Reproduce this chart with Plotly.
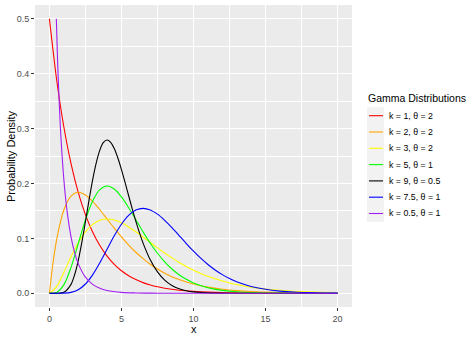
import plotly.graph_objects as go

# Gamma distribution curves
names = ["k = 1, θ = 2", "k = 2, θ = 2", "k = 3, θ = 2", "k = 5, θ = 1",
         "k = 9, θ = 0.5", "k = 7.5, θ = 1", "k = 0.5, θ = 1"]
colors = ["#FF0000", "#FFA500", "#FFFF00", "#00FF00", "#000000", "#0000FF", "#A020F0"]
legend_title = "Gamma Distributions"
x_title = "x"
y_title = "Probability Density"

red_x = [0, 0.5, 1, 1.5, 2, 2.5, 3, 3.5, 4, 4.5, 5, 5.5, 6, 6.5, 7, 7.5, 8,
         9, 10, 11, 12, 13, 14, 15, 16, 17, 18, 19, 20]
red_y = [0.5, 0.3894, 0.3033, 0.2362, 0.1839, 0.1433, 0.1116, 0.0869, 0.0677, 0.0527,
         0.0410, 0.0320, 0.0249, 0.0194, 0.0151, 0.0118, 0.0092,
         0.0056, 0.0034, 0.0020, 0.0012, 0.0008, 0.0005, 0.0003, 0.0002, 0.0001, 0.0001, 0.0, 0.0]

orange_x = [0, 0.25, 0.5, 1, 1.5, 2, 2.5, 3, 3.5, 4, 4.5, 5, 5.5, 6, 6.5, 7, 7.5, 8, 8.5,
            9, 9.5, 10, 11, 12, 13, 14, 15, 16, 17, 18, 19, 20]
orange_y = [0, 0.0552, 0.0974, 0.1516, 0.1771, 0.1839, 0.1791, 0.1673, 0.1521, 0.1353,
            0.1186, 0.1026, 0.0879, 0.0747, 0.0631, 0.0528, 0.0441, 0.0366, 0.0303,
            0.0250, 0.0205, 0.0168, 0.0112, 0.0074, 0.0049, 0.0032, 0.0021, 0.0013,
            0.0009, 0.0006, 0.0004, 0.0002]

yellow_x = [0, 0.5, 1, 1.5, 2, 2.5, 3, 3.5, 4, 4.5, 5, 5.5, 6, 6.5, 7, 7.5, 8, 8.5, 9, 9.5,
            10, 10.5, 11, 11.5, 12, 12.5, 13, 13.5, 14, 14.5, 15, 16, 17, 18, 19, 20]
yellow_y = [0, 0.0122, 0.0379, 0.0664, 0.0920, 0.1119, 0.1255, 0.1331, 0.1353, 0.1334,
            0.1283, 0.1208, 0.1120, 0.1025, 0.0925, 0.0826, 0.0733, 0.0644, 0.0562, 0.0488,
            0.0421, 0.0362, 0.0309, 0.0263, 0.0223, 0.0188, 0.0159, 0.0133, 0.0112, 0.0093,
            0.0078, 0.0054, 0.0037, 0.0025, 0.0017, 0.0011]

green_x = [0, 0.5, 1, 1.5, 2, 2.5, 3, 3.5, 4, 4.5, 5, 5.5, 6, 6.5, 7, 7.5, 8, 8.5, 9, 9.5,
           10, 11, 12, 13, 14, 15, 16, 17, 18, 19, 20]
green_y = [0, 0.0016, 0.0153, 0.0471, 0.0902, 0.1336, 0.1680, 0.1888, 0.1954, 0.1898,
           0.1755, 0.1558, 0.1339, 0.1118, 0.0912, 0.0729, 0.0572, 0.0442, 0.0337, 0.0254,
           0.0189, 0.0102, 0.0053, 0.0027, 0.0013, 0.0006, 0.0003, 0.0001, 0.0, 0.0, 0.0]

black_x = [0, 0.5, 1, 1.5, 1.75, 2, 2.25, 2.5, 2.75, 3, 3.25, 3.5, 3.75, 4, 4.25, 4.5, 4.75,
           5, 5.25, 5.5, 5.75, 6, 6.25, 6.5, 7, 7.5, 8, 8.5, 9, 9.5, 10,
           11, 12, 13, 14, 15, 16, 17, 18, 19, 20]
black_y = [0, 0, 0.0017, 0.0162, 0.0337, 0.0595, 0.0926, 0.1305, 0.1698, 0.2066, 0.2376,
           0.2608, 0.2747, 0.2791, 0.2750, 0.2636, 0.2463, 0.2253, 0.2019, 0.1776, 0.1538,
           0.1311, 0.1103, 0.0914, 0.0609, 0.0389, 0.0240, 0.0143, 0.0083, 0.0047, 0.0026,
           0.0008, 0.0002, 0, 0, 0, 0, 0, 0, 0, 0]

blue_x = [0, 0.5, 1, 1.5, 2, 2.5, 3, 3.5, 4, 4.5, 5, 5.5, 6, 6.5, 7, 7.5, 8, 8.5, 9, 9.5,
          10, 10.5, 11, 11.5, 12, 12.5, 13, 13.5, 14, 15, 16, 17, 18, 19, 20]
blue_y = [0, 0, 0.0002, 0.0017, 0.0065, 0.0169, 0.0336, 0.0555, 0.0802, 0.1047, 0.1258,
          0.1418, 0.1515, 0.1546, 0.1517, 0.1441, 0.1329, 0.1197, 0.1052, 0.0906, 0.0767,
          0.0639, 0.0524, 0.0425, 0.0340, 0.0269, 0.0210, 0.0163, 0.0125, 0.0072, 0.0040,
          0.0022, 0.0012, 0.0006, 0.0003]

purple_x = [0.48, 0.55, 0.6, 0.75, 1, 1.25, 1.5, 1.75, 2, 2.5, 3, 3.5, 4, 5, 6, 7, 8,
            10, 12, 14, 16, 18, 20]
purple_y = [0.5, 0.4389, 0.3997, 0.3077, 0.2076, 0.1446, 0.1028, 0.0741, 0.0540, 0.0293,
            0.0162, 0.0091, 0.0052, 0.0017, 0.0006, 0.0002, 0.0001, 0, 0, 0, 0, 0, 0]

xs = [red_x, orange_x, yellow_x, green_x, black_x, blue_x, purple_x]
ys = [red_y, orange_y, yellow_y, green_y, black_y, blue_y, purple_y]

x_ticks = [0, 5, 10, 15, 20]
y_ticks = [0.0, 0.1, 0.2, 0.3, 0.4, 0.5]

W, H = 474, 338
ML, MR, MT, MB = 35, 122, 5, 31
PW, PH = W - ML - MR, H - MT - MB


def px_to_paper(px, py):
    return (px - ML) / PW, (H - MB - py) / PH


fig = go.Figure()
for name, col, x, y in zip(names, colors, xs, ys):
    fig.add_trace(go.Scatter(x=x, y=y, mode="lines", name=name, showlegend=False,
                             line=dict(color=col, width=1.1, shape="spline", smoothing=0.8)))

FONT = "Liberation Sans, Arial, sans-serif"
axis_common = dict(
    showgrid=True, gridcolor="white", gridwidth=1.1,
    zeroline=False, showline=False,
    ticks="outside", ticklen=3, tickwidth=1, tickcolor="#333333",
    tickfont=dict(family=FONT, size=9, color="#4D4D4D"),
    automargin=False,
)
fig.update_xaxes(range=[-1, 21], tickvals=x_ticks, ticktext=[str(v) for v in x_ticks],
                 minor=dict(tickvals=[2.5, 7.5, 12.5, 17.5], showgrid=True,
                            gridcolor="white", gridwidth=0.5, ticks=""),
                 **axis_common)
fig.update_yaxes(range=[-0.025, 0.525], tickvals=y_ticks, ticktext=[f"{v:.1f}" for v in y_ticks],
                 minor=dict(tickvals=[0.05, 0.15, 0.25, 0.35, 0.45], showgrid=True,
                            gridcolor="white", gridwidth=0.5, ticks=""),
                 **axis_common)

shapes = []
annotations = []

# Axis titles
xt_x, xt_y = px_to_paper(ML + PW / 2, 329)
annotations.append(dict(xref="paper", yref="paper", x=xt_x, y=xt_y, xanchor="center",
                        yanchor="middle", text=x_title, showarrow=False, borderpad=0,
                        font=dict(family=FONT, size=11, color="black")))
yt_x, yt_y = px_to_paper(11, MT + PH / 2)
annotations.append(dict(xref="paper", yref="paper", x=yt_x, y=yt_y, xanchor="center",
                        yanchor="middle", text=y_title, showarrow=False, textangle=-90,
                        borderpad=0, font=dict(family=FONT, size=11, color="black")))

# Custom ggplot-like legend (layout elements in the right margin)
KEY_L, KEY_R = 367, 384
ROW0, ROW_STEP = 115.7, 16.3
x0, y0 = px_to_paper(KEY_L, ROW0 - 8.5)
x1, y1 = px_to_paper(KEY_R, ROW0 + ROW_STEP * (len(names) - 1) + 8.5)
shapes.append(dict(type="rect", xref="paper", yref="paper", x0=x0, x1=x1, y0=y1, y1=y0,
                   fillcolor="#F2F2F2", line=dict(width=0), layer="below"))
tx, ty = px_to_paper(KEY_L, 98.5)
annotations.append(dict(xref="paper", yref="paper", x=tx, y=ty, xanchor="left", yanchor="middle",
                        text=legend_title, showarrow=False, borderpad=0,
                        font=dict(family=FONT, size=10.5, color="black")))
for i, (name, col) in enumerate(zip(names, colors)):
    row = ROW0 + i * ROW_STEP
    lx0, ly = px_to_paper(369, row)
    lx1, _ = px_to_paper(383, row)
    shapes.append(dict(type="line", xref="paper", yref="paper", x0=lx0, x1=lx1, y0=ly, y1=ly,
                       line=dict(color=col, width=1.1)))
    ax, _ = px_to_paper(388, row)
    annotations.append(dict(xref="paper", yref="paper", x=ax, y=ly, xanchor="left",
                            yanchor="middle", text=name, showarrow=False, borderpad=0,
                            font=dict(family=FONT, size=8.8, color="black")))

fig.update_layout(
    width=W, height=H,
    margin=dict(l=ML, r=MR, t=MT, b=MB),
    paper_bgcolor="white", plot_bgcolor="#EBEBEB",
    font=dict(family=FONT, size=9, color="black"),
    showlegend=False,
    shapes=shapes, annotations=annotations,
)

fig.write_html("out.html")
